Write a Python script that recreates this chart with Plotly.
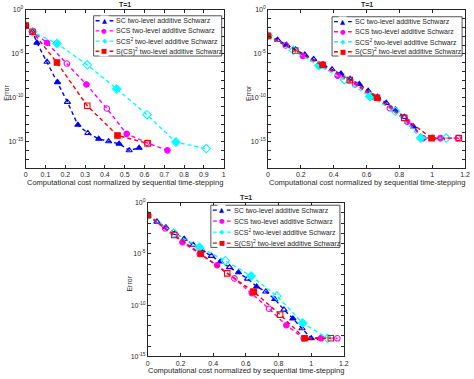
import plotly.graph_objects as go

W, H = 474, 379

# ---------------- data (error values) ----------------
# Panel 1 (top-left)
p1_sc_x = [0, 0.035, 0.057, 0.108, 0.161, 0.211, 0.264, 0.314, 0.369, 0.419, 0.472, 0.523, 0.573]
p1_sc_y = [1.7e-2, 3.2e-3, 1.8e-4, 1.2e-6, 5.8e-9, 3.2e-11, 7.9e-14, 9.1e-15, 2.0e-15, 1.05e-15, 5.6e-16, 1.0e-16, 1.9e-16]
p1_scs_x = [0, 0.035, 0.108, 0.208, 0.307, 0.41, 0.51, 0.612, 0.716]
p1_scs_y = [1.7e-2, 3.2e-3, 1.8e-4, 7.9e-7, 3.2e-9, 5.8e-12, 7.6e-15, 7.4e-16, 1.0e-16]
p1_scs2_x = [0, 0.035, 0.158, 0.311, 0.46, 0.613, 0.759, 0.912]
p1_scs2_y = [1.7e-2, 3.2e-3, 1.5e-4, 5.5e-7, 1.0e-9, 1.15e-12, 8.7e-16, 1.6e-16]
p1_scs2b_x = [0, 0.035, 0.158, 0.311, 0.464, 0.616]
p1_scs2b_y = [1.7e-2, 3.2e-3, 1.0e-6, 1.2e-11, 5.0e-15, 6.3e-16]

# Panel 2 (top-right)
p2_sc_x = [0, 0.058, 0.112, 0.168, 0.224, 0.278, 0.334, 0.39, 0.444, 0.5, 0.556, 0.61, 0.666, 0.72, 0.776, 0.83, 0.886, 0.943, 1.0, 1.056]
p2_sc_y = [1.1e-3, 3.9e-4, 1.05e-4, 2.9e-5, 7.9e-6, 2.4e-6, 6.3e-7, 1.66e-7, 5.4e-8, 1.4e-8, 3.5e-9, 6.0e-10, 1.26e-10, 2.5e-11, 4.5e-12, 6.3e-13, 5.0e-14, 2.5e-15, 2.5e-15, 2.5e-15]
p2_scs_x = [0, 0.108, 0.212, 0.318, 0.424, 0.53, 0.636, 0.742, 0.848, 0.944, 1.05, 1.156]
p2_scs_y = [1.1e-3, 8.9e-5, 5.6e-6, 4.5e-7, 3.2e-8, 3.2e-9, 1.4e-10, 6.3e-12, 1.8e-13, 2.5e-15, 2.5e-15, 2.5e-15]
p2_scs2_x = [0, 0.155, 0.31, 0.465, 0.62, 0.775, 0.93, 1.085]
p2_scs2_y = [1.1e-3, 2.5e-5, 4.5e-7, 1.1e-8, 1.4e-10, 2.8e-12, 2.5e-15, 2.5e-15]
p2_scs2b_x = [0, 0.166, 0.332, 0.498, 0.664, 0.83, 0.996, 1.162]
p2_scs2b_y = [1.1e-3, 2.4e-5, 5.6e-7, 1.0e-8, 1.0e-10, 5.0e-13, 2.5e-15, 2.5e-15]

# Panel 3 (bottom)
p3_sc_x = [0, 0.056, 0.111, 0.167, 0.222, 0.278, 0.333, 0.389, 0.444, 0.5, 0.555, 0.611, 0.666, 0.722, 0.777, 0.833, 0.888, 0.944, 1.0, 1.055]
p3_sc_y = [6.0e-2, 1.4e-2, 3.9e-3, 1.1e-3, 2.9e-4, 7.8e-5, 2.2e-5, 6.3e-6, 1.8e-6, 5.0e-7, 1.6e-7, 3.8e-8, 6.5e-9, 2.1e-9, 3.9e-10, 3.6e-11, 4.9e-12, 5.4e-13, 5.8e-14, 5.8e-14]
p3_scs_x = [0, 0.106, 0.212, 0.318, 0.424, 0.53, 0.636, 0.742, 0.848, 0.954, 1.06, 1.16]
p3_scs_y = [6.0e-2, 3.2e-3, 1.4e-4, 1.0e-5, 7.9e-7, 4.1e-8, 1.5e-9, 4.5e-11, 1.1e-12, 5.8e-14, 5.8e-14, 5.8e-14]
p3_scs2_x = [0, 0.158, 0.316, 0.474, 0.632, 0.79, 0.948, 1.1]
p3_scs2_y = [6.0e-2, 1.1e-3, 4.6e-5, 2.2e-6, 7.1e-8, 7.9e-10, 1.8e-12, 5.8e-14]
p3_scs2b_x = [0, 0.162, 0.324, 0.486, 0.648, 0.81, 0.96, 1.12]
p3_scs2b_y = [6.0e-2, 7.1e-4, 1.05e-5, 1.26e-7, 2.1e-9, 1.2e-11, 5.8e-14, 5.8e-14]

series_names = ["SC two-level additive Schwarz",
                "SCS two-level additive Schwarz",
                "SCS<sup>2</sup> two-level additive Schwarz",
                "S(CS)<sup>2</sup> two-level additive Schwarz"]
title_text = "T=1"
xlabel = "Computational cost normalized by sequential time-stepping"
ylabel = "Error"

# ---------------- styles ----------------
colors = ["#0000FF", "#FF00FF", "#00FFFF", "#FF0000"]
symbols = ["triangle-up", "circle", "diamond", "square"]
glyphs = ["\u25B2", "\u25CF", "\u25C6", "\u25A0"]
FONT = "Liberation Sans, Arial, sans-serif"
AX = "#262626"
DASH = "4px,3px"

# axes pixel boxes: (left, right, top, bottom)
boxes = {
    1: (24, 225, 6, 167),
    2: (270, 470, 6, 167),
    3: (148, 347, 202.5, 359),
}
def px(x):
    return x / W
def py(y):
    return 1 - y / H

panels = {
    1: [(p1_sc_x, p1_sc_y), (p1_scs_x, p1_scs_y), (p1_scs2_x, p1_scs2_y), (p1_scs2b_x, p1_scs2b_y)],
    2: [(p2_sc_x, p2_sc_y), (p2_scs_x, p2_scs_y), (p2_scs2_x, p2_scs2_y), (p2_scs2b_x, p2_scs2b_y)],
    3: [(p3_sc_x, p3_sc_y), (p3_scs_x, p3_scs_y), (p3_scs2_x, p3_scs2_y), (p3_scs2b_x, p3_scs2b_y)],
}

fig = go.Figure()
for p, data in panels.items():
    suffix = "" if p == 1 else str(p)
    for k, (xs, ys) in enumerate(data):
        syms = [symbols[k] if i % 2 == 0 else symbols[k] + "-open" for i in range(len(xs))]
        fig.add_trace(go.Scatter(
            x=xs, y=ys, mode="lines+markers", name=series_names[k], showlegend=False,
            line=dict(color=colors[k], width=1.4, dash=DASH),
            marker=dict(symbol=syms, size=5.5 if k != 2 else 6.5, color=colors[k],
                        line=dict(color=colors[k], width=1.1)),
            xaxis="x" + suffix, yaxis="y" + suffix,
        ))

axis_common = dict(showline=True, mirror="ticks", linecolor=AX, linewidth=0.8,
                   ticks="inside", ticklen=3, tickcolor=AX, tickwidth=0.8,
                   showgrid=False, zeroline=False,
                   tickfont=dict(size=7, color=AX, family=FONT))

layout = dict(width=W, height=H, margin=dict(l=0, r=0, t=0, b=0),
              paper_bgcolor="white", plot_bgcolor="white",
              font=dict(family=FONT, color=AX), showlegend=False)

yranges = {1: (-18, 0), 2: (-18, 0), 3: (-15, 0)}
xranges = {1: (0, 1), 2: (0, 1.2), 3: (0, 1.2)}
xticks = {1: [round(0.1 * i, 1) for i in range(11)],
          2: [round(0.2 * i, 1) for i in range(7)],
          3: [round(0.2 * i, 1) for i in range(7)]}

def fmt(v):
    return "%g" % v

annotations = []
shapes = []
for p in (1, 2, 3):
    l, r, t, b = boxes[p]
    suffix = "" if p == 1 else str(p)
    lo, hi = yranges[p]
    tv = [10.0 ** e for e in range(lo, hi + 1)]
    tt = [("10<sup>%d</sup>" % e) if e % 5 == 0 else "" for e in range(lo, hi + 1)]
    layout["xaxis" + suffix] = dict(axis_common, domain=[px(l), px(r)], range=list(xranges[p]),
                                    tickvals=xticks[p], ticktext=[fmt(v) for v in xticks[p]],
                                    anchor="y" + suffix)
    layout["yaxis" + suffix] = dict(axis_common, domain=[py(b), py(t)], type="log",
                                    range=list(yranges[p]), tickvals=tv, ticktext=tt,
                                    anchor="x" + suffix)
    cx = (l + r) / 2
    annotations.append(dict(x=px(cx), y=py(t - 5.5), xref="paper", yref="paper",
                            text="<b>%s</b>" % title_text, showarrow=False,
                            font=dict(size=7, color=AX, family=FONT),
                            xanchor="center", yanchor="middle"))
    annotations.append(dict(x=px(cx), y=py(b + 14.5), xref="paper", yref="paper",
                            text=xlabel, showarrow=False,
                            font=dict(size=7.5, color=AX, family=FONT),
                            xanchor="center", yanchor="middle"))
    annotations.append(dict(x=px(l - 19), y=py((t + b) / 2 + 4), xref="paper", yref="paper",
                            text=ylabel, showarrow=False, textangle=-90,
                            font=dict(size=7, color=AX, family=FONT),
                            xanchor="center", yanchor="middle"))

# manual legends: (x0, y0, x1, y1, row spacing)
legends = {1: (93, 12, 223, 53, 10.4), 2: (335, 13, 467, 53, 10.2), 3: (212, 205, 343, 248, 11.2)}
for p, (x0, y0, x1, y1, dy) in legends.items():
    shapes.append(dict(type="rect", xref="paper", yref="paper",
                       x0=px(x0), x1=px(x1), y0=py(y1), y1=py(y0),
                       line=dict(color=AX, width=0.8), fillcolor="white", layer="above"))
    for k in range(4):
        yy = y0 + 5 + k * dy
        shapes.append(dict(type="line", xref="paper", yref="paper",
                           x0=px(x0 + 2), x1=px(x0 + 20), y0=py(yy), y1=py(yy),
                           line=dict(color=colors[k], width=1.4, dash=DASH), layer="above"))
        annotations.append(dict(x=px(x0 + 11), y=py(yy), xref="paper", yref="paper",
                                text=glyphs[k], showarrow=False, bgcolor="white",
                                font=dict(size=6.5, color=colors[k], family="DejaVu Sans"),
                                xanchor="center", yanchor="middle"))
        annotations.append(dict(x=px(x0 + 21), y=py(yy), xref="paper", yref="paper",
                                text=series_names[k], showarrow=False,
                                font=dict(size=7, color=AX, family=FONT),
                                xanchor="left", yanchor="middle"))

layout["annotations"] = annotations
layout["shapes"] = shapes
fig.update_layout(**layout)
fig.write_html("out.html", config={"displayModeBar": False},
               post_script="document.body.style.margin='0';document.body.style.overflow='hidden';")
